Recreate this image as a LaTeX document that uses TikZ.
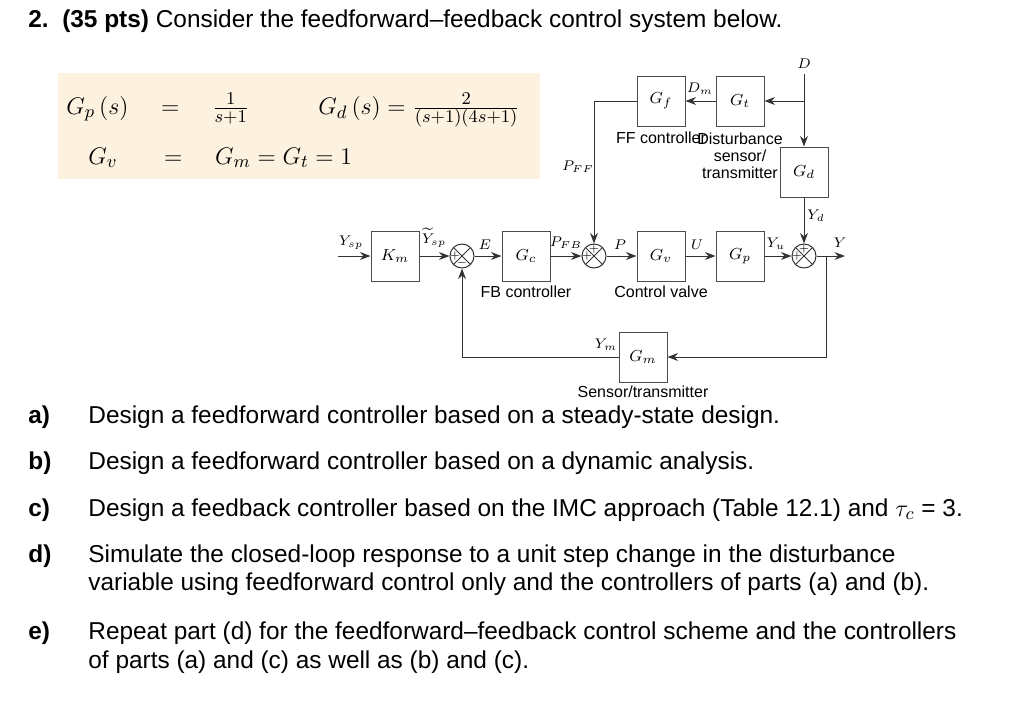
\documentclass[tikz,border=0pt]{standalone}
\usepackage{fontspec}
\setmainfont{Liberation Sans}
\usetikzlibrary{arrows.meta,calc}
\definecolor{beige}{HTML}{FCF2DF}
\begin{document}
\begin{tikzpicture}[x=0.5pt,y=-0.5pt,>=Stealth,
  blk/.style={draw=black!70,line width=0.5pt,minimum width=24pt,minimum height=25pt,inner sep=0pt,font=\fontsize{8}{9}\selectfont},
  sumj/.style={draw=black!80,circle,minimum size=12pt,inner sep=0pt,line width=0.5pt},
  sig/.style={font=\fontsize{7.5}{8}\selectfont,inner sep=1pt},
  pm/.style={font=\fontsize{4.5}{5}\selectfont,inner sep=0pt},
  blkcap/.style={font=\fontsize{8}{8.5}\selectfont,align=center,inner sep=0pt},
  wire/.style={->,line width=0.5pt,black!80},
  q/.style={anchor=base west,inner sep=0pt,font=\fontsize{12.2}{14}\selectfont}]
\useasboundingbox (0,0) rectangle (1024,703);

% ---------- header and parameter box ----------
\node[anchor=base west,inner sep=0pt,font=\fontsize{12.2}{14}\selectfont] (title) at (28,27)
  {\textbf{2.\ \ (35 pts)} Consider the feedforward--feedback control system below.};
\fill[beige] (58,73) rectangle (540,179);
\node[anchor=base west,inner sep=0pt,font=\fontsize{13}{15}\selectfont] (eqa) at (66,114)
  {$G_p\,(s)\quad=\quad\frac{1}{s+1}$};
\node[anchor=base west,inner sep=0pt,font=\fontsize{13}{15}\selectfont] (eqb) at (318,114)
  {$G_d\,(s)=\frac{2}{(s+1)(4s+1)}$};
\node[anchor=base west,inner sep=0pt,font=\fontsize{13}{15}\selectfont] (eqc) at (88,164)
  {$G_v\quad\ \;=\quad G_m=G_t=1$};

% ---------- blocks ----------
\node[blk] (Km) at (395,256) {$K_m$};
\node[sumj] (S1) at (462,256) {};
\node[blk] (Gc) at (526,256) {$G_c$};
\node[sumj] (S2) at (594,256) {};
\node[blk] (Gv) at (661,256) {$G_v$};
\node[blk] (Gp) at (740,256) {$G_p$};
\node[sumj] (S3) at (804,256) {};
\node[blk] (Gf) at (661,101) {$G_f$};
\node[blk] (Gt) at (740,101) {$G_t$};
\node[blk] (Gd) at (804,172) {$G_d$};
\node[blk] (Gm) at (643,357) {$G_m$};
\foreach \s in {S1,S2,S3}
  \draw[black!80,line width=0.5pt] (\s.north west)--(\s.south east) (\s.north east)--(\s.south west);

\coordinate (in) at (338,256);
\coordinate (out) at (845,256);
\coordinate (tap) at (826,256);
\coordinate (Dtop) at (804,74);
\coordinate (Dbr) at (804,101);

% ---------- connectors ----------
\draw[wire] (in) -- (Km);
\draw[wire] (Km) -- (S1);
\draw[wire] (S1) -- (Gc);
\draw[wire] (Gc) -- (S2);
\draw[wire] (S2) -- (Gv);
\draw[wire] (Gv) -- (Gp);
\draw[wire] (Gp) -- (S3);
\draw[wire] (S3) -- (out);
\draw[wire] (Dtop) -- (Gd);
\draw[wire] (Dbr) -- (Gt);
\draw[wire] (Gt) -- (Gf);
\draw[wire] (Gf.west) -| (S2);
\draw[wire] (Gd) -- (S3);
\draw[wire] (tap) |- (Gm);
\draw[wire] (Gm) -| (S1);

% ---------- signal labels ----------
\node[sig] (lYsp) at (351,243) {$Y_{sp}$};
\node[sig] (lYt) at (434,238) {$\widetilde{Y}_{sp}$};
\node[sig] (lE) at (485,245) {$E$};
\node[sig] (lPFB) at (566,243) {$P_{FB}$};
\node[sig] (lP) at (620,245) {$P$};
\node[sig] (lU) at (697,245) {$U$};
\node[sig] (lYu) at (776,244) {$Y_u$};
\node[sig] (lY) at (840,243) {$Y$};
\node[sig] (lYd) at (816,216) {$Y_d$};
\node[sig] (lDm) at (700,89) {$D_m$};
\node[sig] (lD) at (804,64) {$D$};
\node[sig] (lPFF) at (578,167) {$P_{FF}$};
\node[sig] (lYm) at (606,345) {$Y_m$};
\node[pm] (p1) at (455,256) {$+$};
\node[pm] (m1) at (462,263) {$-$};
\node[pm] (p2a) at (594,249) {$+$};
\node[pm] (p2b) at (587,256) {$+$};
\node[pm] (p3a) at (804,249) {$+$};
\node[pm] (p3b) at (797,256) {$+$};

% ---------- block captions ----------
\node[blkcap] (cGf) at (661,138) {FF controller};
\node[blkcap,anchor=north] (cGt) at (740,132) {Disturbance\\sensor/\\transmitter};
\node[blkcap] (cGc) at (526,292) {FB controller};
\node[blkcap] (cGv) at (661,292) {Control valve};
\node[blkcap] (cGm) at (643,392) {Sensor/transmitter};

% ---------- questions ----------
\node[q] (qa) at (28,423) {\textbf{a)}};
\node[q] (ta) at (88,423) {Design a feedforward controller based on a steady-state design.};
\node[q] (qb) at (28,469) {\textbf{b)}};
\node[q] (tb) at (88,469) {Design a feedforward controller based on a dynamic analysis.};
\node[q] (qc) at (28,516) {\textbf{c)}};
\node[q] (tc) at (88,516) {Design a feedback controller based on the IMC approach (Table 12.1) and $\tau_c$ = 3.};
\node[q] (qd) at (28,562) {\textbf{d)}};
\node[q] (td) at (88,562) {Simulate the closed-loop response to a unit step change in the disturbance};
\node[q] (td2) at (88,590) {variable using feedforward control only and the controllers of parts (a) and (b).};
\node[q] (qe) at (28,639) {\textbf{e)}};
\node[q] (te) at (88,639) {Repeat part (d) for the feedforward--feedback control scheme and the controllers};
\node[q] (te2) at (88,668) {of parts (a) and (c) as well as (b) and (c).};
\end{tikzpicture}
\end{document}
